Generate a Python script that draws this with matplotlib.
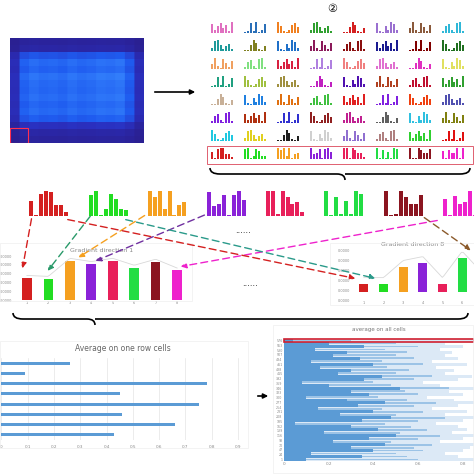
import matplotlib
matplotlib.use("Agg")
import matplotlib.pyplot as plt
import numpy as np
from matplotlib.patches import Rectangle, FancyArrowPatch, PathPatch
from matplotlib.path import Path
from matplotlib.colors import LinearSegmentedColormap

W = 474.0

# ---- data ----
hist_colors = ["#d42020", "#22dd22", "#f5a020", "#8a22d8", "#e8205a", "#22dd44", "#8b1520", "#ee22cc"]
hist_values = [
    [0.60, 0.05, 0.90, 1.00, 0.95, 0.45, 0.45, 0.15],
    [0.85, 1.00, 0.05, 0.30, 0.90, 0.70, 0.30, 0.25],
    [1.00, 0.75, 1.00, 0.30, 1.00, 0.05, 0.45, 0.55],
    [0.95, 0.40, 0.50, 0.85, 0.05, 0.85, 1.00, 0.65],
    [1.00, 1.00, 0.08, 1.00, 0.75, 0.50, 0.55, 0.18],
    [1.00, 0.05, 0.75, 0.10, 0.60, 0.10, 1.00, 0.90],
    [1.00, 0.05, 0.10, 1.00, 0.75, 0.50, 0.50, 0.85],
    [0.70, 0.05, 0.80, 0.50, 0.55, 1.00, 0.05, 1.00],
]
grid_colors = [
    ["#e070c0", "#2a6fb8", "#f08020", "#30a030", "#d42020", "#9a70d0", "#8b5a3c", "#30b8d8"],
    ["#1f9a9a", "#808020", "#1f70c8", "#8b1a5a", "#8b1010", "#1a1a90", "#800000", "#207020"],
    ["#f0a060", "#80e080", "#d82040", "#b080e0", "#f08080", "#e070d0", "#e030c0", "#e0e060"],
    ["#20a080", "#a0c040", "#a09040", "#c020c0", "#5010b0", "#b04020", "#c01030", "#30a030"],
    ["#c8b098", "#2080e0", "#e07010", "#40c040", "#e02020", "#8020e0", "#f04010", "#5050b0"],
    ["#8020e0", "#b03010", "#3030d0", "#902020", "#c02090", "#606060", "#30c0e0", "#808010"],
    ["#20c8e0", "#e0d020", "#202020", "#d0d0d0", "#9070d0", "#b08080", "#30d030", "#e01010"],
    hist_colors,
]
mini_patterns = [
    [0.8, 0.3, 0.6, 0.9, 0.4, 0.7, 0.2, 1.0],
    [0.1, 0.2, 0.9, 0.2, 1.0, 0.1, 0.3, 0.8],
    [1.0, 0.6, 0.2, 0.1, 0.3, 0.7, 0.9, 0.5],
    [0.3, 0.9, 1.0, 0.5, 0.2, 0.4, 0.6, 0.2],
    [0.1, 0.1, 0.5, 1.0, 0.7, 0.2, 0.1, 0.4],
    [0.9, 0.2, 0.1, 0.6, 0.3, 1.0, 0.8, 0.3],
    [0.4, 1.0, 0.3, 0.1, 0.9, 0.5, 0.2, 0.7],
    [0.2, 0.6, 0.8, 0.3, 0.1, 0.9, 1.0, 0.2],
]

grad1_values = [0.48, 0.46, 0.85, 0.78, 0.85, 0.70, 0.83, 0.64]
grad8_values = [0.06, 0.06, 0.19, 0.22, 0.06, 0.26, 0.10, 0.20]
grad_labels = ["1", "2", "3", "4", "5", "6", "7", "8"]

row_avg = [0.26, 0.09, 0.78, 0.45, 0.75, 0.46, 0.66, 0.43]
row_ticks = [0, 0.1, 0.2, 0.3, 0.4, 0.5, 0.6, 0.7, 0.8, 0.9]

all_dark = [0.10, 0.35, 0.12, 0.40, 0.30, 0.45, 0.22, 0.38, 0.50, 0.18, 0.42, 0.30, 0.05, 0.35, 0.48,
            0.25, 0.40, 0.15, 0.33, 0.45, 0.28, 0.10, 0.38, 0.30, 0.52, 0.20, 0.08, 0.36, 0.44, 0.24,
            0.30, 0.16, 0.40, 0.12, 0.34, 0.22, 0.28, 0.14, 0.36, 0.20, 0.04]
all_mid = [0.60, 0.55, 0.50, 0.62, 0.58, 0.66, 0.48, 0.60, 0.70, 0.52, 0.64, 0.57, 0.45, 0.60, 0.72,
           0.50, 0.62, 0.44, 0.58, 0.68, 0.55, 0.42, 0.60, 0.54, 0.74, 0.48, 0.40, 0.58, 0.66, 0.50,
           0.56, 0.46, 0.62, 0.44, 0.58, 0.50, 0.55, 0.45, 0.60, 0.50, 0.30]
all_light = [0.85, 0.78, 0.72, 0.80, 0.83, 0.85, 0.70, 0.80, 0.85, 0.75, 0.82, 0.78, 0.68, 0.80, 0.85,
             0.72, 0.82, 0.66, 0.78, 0.85, 0.76, 0.64, 0.80, 0.74, 0.85, 0.70, 0.62, 0.78, 0.84, 0.72,
             0.76, 0.68, 0.82, 0.66, 0.78, 0.72, 0.75, 0.70, 0.80, 0.72, 0.85]
all_labels = [str(1 + 23 * i) for i in range(26)]

spec_rows = [0.10, 0.15, 0.55, 0.70, 0.65, 0.75, 0.70, 0.68, 0.72, 0.66, 0.70, 0.60, 0.30, 0.15, 0.10]
spec_cols = [0.30, 0.75, 0.85, 0.80, 0.82, 0.78, 0.85, 0.80, 0.83, 0.88, 0.86, 0.90, 0.70, 0.30]


def px(x, y, w, h):
    return [x / W, 1 - (y + h) / W, w / W, h / W]


fig = plt.figure(figsize=(4.74, 4.74), dpi=100)

# spectrogram
spec_cmap = LinearSegmentedColormap.from_list("spec", ["#2a1e8c", "#2a30c0", "#1f5cf0", "#3a8cff"])
ax = fig.add_axes(px(10, 38, 133, 105))
img = np.outer(np.repeat(spec_rows, 7), np.repeat(spec_cols, 10))
ax.imshow(img, cmap=spec_cmap, vmin=0, vmax=0.75, aspect="auto", interpolation="bilinear")
ax.add_patch(Rectangle((0, img.shape[0] * 0.85), img.shape[1] * 0.13, img.shape[0] * 0.15 - 0.5,
                       fill=False, ec="#ff3050", lw=0.8))
ax.axis("off")

# 8x8 grid of mini histograms
for r in range(8):
    for c in range(8):
        a = fig.add_axes(px(210 + c * 33, 21 + r * 18, 24, 12))
        vals = hist_values[c] if r == 7 else mini_patterns[(r * 3 + c) % 8]
        a.bar(range(8), vals, color=grid_colors[r][c], width=0.75)
        a.set_ylim(0, 1.05)
        a.axis("off")

# middle row histograms
mid_x = [28, 88, 147, 206, 265, 323, 383, 442]
for i in range(8):
    a = fig.add_axes(px(mid_x[i], 190, 40, 26))
    a.bar(range(8), hist_values[i], color=hist_colors[i], width=0.8)
    a.set_ylim(0, 1.05)
    a.set_xlim(-0.5, 7.5)
    a.axis("off")


def grad_chart(rect, vals, title, ylim, xlim):
    a = fig.add_axes(rect)
    xs = np.arange(1, 9)
    a.bar(xs, vals, color=hist_colors, width=0.45)
    xx = np.linspace(1, 8, 80)
    a.plot(xx, np.interp(xx, xs, vals) + 0.05, color="#d8d8d8", lw=0.6)
    a.set_xticks(xs)
    a.set_xticklabels(grad_labels, fontsize=2.5, color="#888888")
    a.tick_params(length=0, pad=1)
    a.set_yticks(np.linspace(ylim[0], ylim[1], 6))
    a.set_yticklabels(["0.0000"] * 6, fontsize=2.5, color="#888888")
    a.set_ylim(*ylim)
    a.set_xlim(*xlim)
    for s in a.spines.values():
        s.set_visible(False)
    a.set_title(title, fontsize=4.5, color="#888888", pad=3)
    return a


grad_chart(px(14, 256, 176, 44), grad1_values, "Gradient direction 1", (0, 0.95), (0.4, 8.6))
grad_chart(px(352, 250, 122, 50), grad8_values, "Gradient direction 8", (-0.06, 0.32), (0.4, 6.6))

# average on one row cells
a = fig.add_axes(px(0, 358, 246, 82))
ys = np.arange(len(row_avg))[::-1]
a.barh(ys, row_avg, height=0.3, color="#5b9bd5")
a.set_xlim(-0.005, 0.93)
a.set_xticks(row_ticks)
a.set_xticklabels([str(t) if t else "0" for t in row_ticks], fontsize=3, color="#888888")
a.set_yticks([])
a.grid(axis="x", color="#e4e4e4", lw=0.5)
a.set_axisbelow(True)
a.tick_params(length=0)
for s in a.spines.values():
    s.set_visible(False)
a.set_title("Average on one row cells", fontsize=5.5, color="#666666", pad=5)

# average on all cells
a = fig.add_axes(px(284, 339, 190, 122))
n = len(all_dark)
ys = np.arange(n)
a.barh(ys, all_light, height=1.0, color="#dce9f6")
a.barh(ys, all_mid, height=0.6, color="#9cc3e6")
a.barh(ys, all_dark, height=1.0, color="#5b9bd5")
a.set_xlim(0, 0.85)
a.set_ylim(-0.5, n - 0.5)
a.set_yticks(np.linspace(0, n - 1, len(all_labels)))
a.set_yticklabels(all_labels, fontsize=2.3, color="#888888")
a.set_xticks([0, 0.2, 0.4, 0.6, 0.8])
a.set_xticklabels(["0", "0.2", "0.4", "0.6", "0.8"], fontsize=3, color="#888888")
a.tick_params(length=0, pad=1)
for s in a.spines.values():
    s.set_visible(False)
a.add_patch(Rectangle((0, n - 1.5), 0.85, 1.0, fill=False, ec="#d02030", lw=1.2, clip_on=False))
a.set_title("average on all cells", fontsize=4, color="#777777", pad=6)

# overlay for arrows, braces, frames
ov = fig.add_axes([0, 0, 1, 1], zorder=10)
ov.set_xlim(0, W)
ov.set_ylim(W, 0)
ov.axis("off")
ov.patch.set_alpha(0)

ov.add_patch(Rectangle((207, 146), 266, 18, fill=False, ec="#e06070", lw=0.7))
ov.add_patch(Rectangle((0, 243), 192, 58, fill=False, ec="#eeeeee", lw=0.5))
ov.add_patch(Rectangle((330, 243), 144, 62, fill=False, ec="#eeeeee", lw=0.5))
ov.add_patch(Rectangle((0, 341), 248, 107, fill=False, ec="#eeeeee", lw=0.5))
ov.add_patch(Rectangle((273, 325), 200, 148, fill=False, ec="#eeeeee", lw=0.5))
ov.text(332, 9, "②", ha="center", va="center", fontsize=8)
ov.text(243, 230, "......", ha="center", va="center", fontsize=6)
ov.text(250, 284, "......", ha="center", va="center", fontsize=6)

for (x0, y0, x1, y1) in [(152, 92, 198, 92), (255, 396, 271, 396)]:
    ov.add_patch(FancyArrowPatch((x0, y0), (x1, y1), arrowstyle="-|>", mutation_scale=7, color="black", lw=1.2))


def brace(x0, x1, xm, y, h):
    verts = [(x0, y), (x0, y + h), (x0 + 10, y + h), (xm - 8, y + h), (xm, y + h), (xm, y + 2 * h),
             (xm, y + h), (xm + 8, y + h), (x1 - 10, y + h), (x1, y + h), (x1, y)]
    codes = [Path.MOVETO, Path.CURVE3, Path.CURVE3, Path.LINETO, Path.CURVE3, Path.CURVE3,
             Path.MOVETO, Path.CURVE3, Path.LINETO, Path.CURVE3, Path.CURVE3]
    ov.add_patch(PathPatch(Path(verts, codes), fill=False, lw=1.2, color="black"))


brace(210, 470, 345, 168, 6)
brace(13, 468, 95, 313, 6)

arrows = [
    ((32, 216), (22, 271), hist_colors[0]),
    ((92, 214), (46, 273), "#2a9a6a"),
    ((147, 214), (76, 259), hist_colors[2]),
    ((207, 214), (93, 262), "#7030a0"),
    ((440, 220), (178, 267), hist_colors[7]),
    ((65, 219), (358, 279), hist_colors[0]),
    ((123, 219), (378, 279), "#2a9a8a"),
    ((422, 216), (473, 252), "#8b5a2b"),
]
for (p0, p1, col) in arrows:
    ov.add_patch(FancyArrowPatch(p0, p1, arrowstyle="-|>", mutation_scale=8, color=col,
                                 lw=1.0, linestyle=(0, (5, 3))))

fig.savefig("out.png", dpi=100)
